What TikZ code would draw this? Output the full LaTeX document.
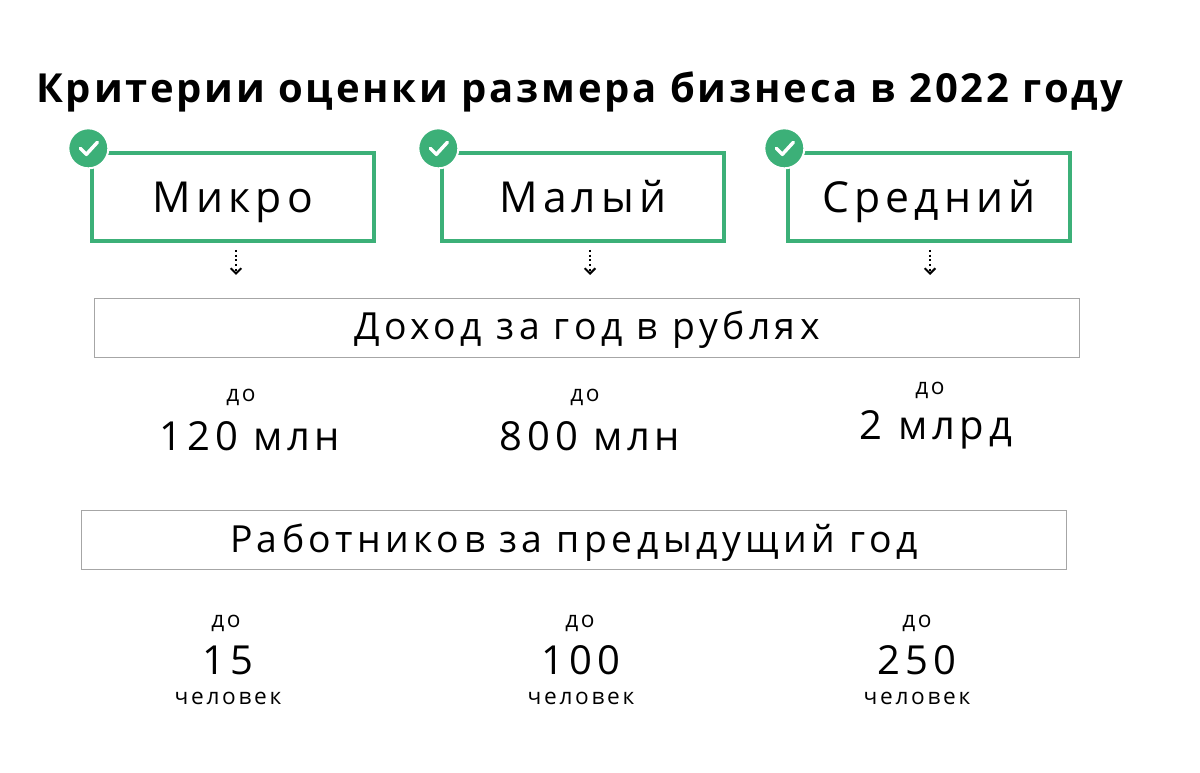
\documentclass[tikz,border=0pt]{standalone}
\usepackage{fontspec}
\setmainfont{Open Sans}[LetterSpace=12]
\newfontfamily\titlefont{Open Sans}[LetterSpace=7]
\usetikzlibrary{arrows.meta}
\definecolor{okgreen}{RGB}{60,176,120}
\tikzset{every picture/.style={line width=0.75pt}}
\tikzset{
  sizebox/.style={draw=okgreen,line width=3pt,minimum width=212pt,minimum height=66pt,inner sep=0pt,text height=27pt,text depth=4pt,font=\fontsize{32}{36}\selectfont},
  rowbox/.style={draw=gray!70,line width=0.9pt,minimum width=739pt,minimum height=44pt,inner sep=0pt,text height=23pt,text depth=5pt,font=\fontsize{28}{32}\selectfont},
  upto/.style={font=\fontsize{17}{20}\selectfont},
  amount/.style={font=\fontsize{30}{34}\selectfont},
  people/.style={font=\fontsize{17}{20}\selectfont},
  badge/.style={circle,fill=okgreen,draw=white,line width=1.5pt,minimum size=30pt,inner sep=0pt},
  dotarrow/.style={dotted,line width=1.5pt,-{Straight Barb[length=4pt,width=8pt,line width=1.5pt]}}
}
\begin{document}
\begin{tikzpicture}[x=0.75pt,y=0.75pt,yscale=-1,xscale=1]
\useasboundingbox (0,0) rectangle (1200,773);

% Title
\node (title) at (580,92) {\titlefont\bfseries\fontsize{30}{34}\selectfont Критерии оценки размера бизнеса в 2022 году};

% Size boxes with badges
\foreach \nm/\cx/\lbl/\ax in {micro/233/Микро/236, small/583/Малый/590, mid/929/Средний/930}{
  \node[sizebox] (\nm) at (\cx,197) {\lbl};
  \node[badge] (\nm-ok) at ([xshift=-1pt,yshift=-2pt]\nm.north west) {};
  \draw[white,line width=2.6pt,line cap=round,line join=round] ([shift={(-8,0)}]\nm-ok.center) -- ([shift={(-2,6)}]\nm-ok.center) -- ([shift={(9,-6)}]\nm-ok.center);
  \coordinate (\nm-a) at (\ax,250);
  \coordinate (\nm-b) at (\ax,275);
  \draw[dotarrow] (\nm-a) -- (\nm-b);
}

% Income
\node[rowbox] (income) at (587,328) {Доход за год в рублях};
\node[upto] (i1u) at (241,397) {до};
\node[amount] (i1) at (250,436) {120 млн};
\node[upto] (i2u) at (585,397) {до};
\node[amount] (i2) at (590,436) {800 млн};
\node[upto] (i3u) at (930,390) {до};
\node[amount] (i3) at (936,430) {2 млрд};

% Employees
\node[rowbox] (staff) at (574,540) {Работников за предыдущий год};
\node[upto] (s1u) at (226,623) {до};
\node[amount] (s1) at (228,660) {15};
\node[upto] (s2u) at (580,623) {до};
\node[amount] (s2) at (581,660) {100};
\node[upto] (s3u) at (917,623) {до};
\node[amount] (s3) at (917,660) {250};
\node[people] (s1p) at (228,698) {человек};
\node[people] (s2p) at (581,698) {человек};
\node[people] (s3p) at (917,698) {человек};
\end{tikzpicture}
\end{document}
